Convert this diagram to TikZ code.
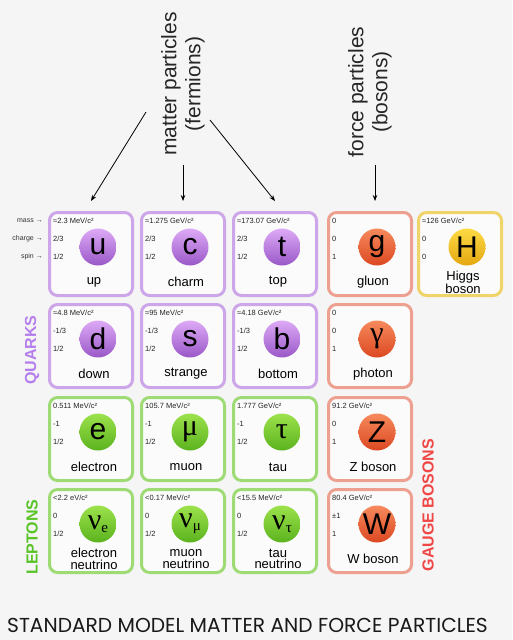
\documentclass[tikz,border=0pt]{standalone}
\usepackage{fontspec}
\setmainfont{Liberation Sans}
\newfontfamily\greek{Liberation Serif}
\newfontfamily\titlefont{Poppins}
\usepackage{tikz}
\usetikzlibrary{arrows.meta, positioning}

\definecolor{bgcol}{HTML}{F5F5F5}
\definecolor{cardfill}{HTML}{FBFBFB}
\definecolor{quarkline}{HTML}{CCA6E8}
\definecolor{leptonline}{HTML}{9FDB75}
\definecolor{bosonline}{HTML}{EEA090}
\definecolor{higgsline}{HTML}{F0D46A}
\definecolor{quarktext}{HTML}{B47EEC}
\definecolor{leptontext}{HTML}{58C428}
\definecolor{bosontext}{HTML}{F04646}
\definecolor{quarktop}{HTML}{DDAAF6}
\definecolor{quarkbot}{HTML}{9A58C8}
\definecolor{leptontop}{HTML}{9CE24C}
\definecolor{leptonbot}{HTML}{5BB31E}
\definecolor{bosontop}{HTML}{F68A5C}
\definecolor{bosonbot}{HTML}{DC4822}
\definecolor{higgstop}{HTML}{FCDA44}
\definecolor{higgsbot}{HTML}{E4A812}

\tikzstyle{card} = [rectangle, draw, fill=cardfill, line width=3pt,
    rounded corners=8pt, minimum width=83pt, minimum height=83pt]
\tikzstyle{line} = [draw, line width=0.8pt, -{Stealth[length=6pt, width=4.5pt]}]

% one particle card: name, x, y, family, mass, charge, spin, symbol, label
\newcommand{\particle}[9]{%
    \node[card, #4] (#1) at (#2,#3) {};
    \node[#4 ball] (#1-sym) at ([xshift=7pt, yshift=7pt]#1.center) {#8};
    \node[datum] (#1-mass) at ([xshift=5pt, yshift=33pt]#1.west) {#5};
    \node[datum] (#1-charge) at ([xshift=5pt, yshift=15pt]#1.west) {#6};
    \node[datum] (#1-spin) at ([xshift=5pt, yshift=-3pt]#1.west) {#7};
    \node[pname] (#1-name) at ([xshift=3pt, yshift=-28pt]#1.center) {#9};
}

\begin{document}
\begin{tikzpicture}[x=1pt, y=-1pt,
    quark/.style={draw=quarkline},
    lepton/.style={draw=leptonline},
    boson/.style={draw=bosonline},
    higgs/.style={draw=higgsline},
    symbol/.style={circle, minimum size=37pt, inner sep=0pt, shading angle=25,
        font=\fontsize{30}{30}\selectfont},
    quark ball/.style={symbol, top color=quarktop, bottom color=quarkbot},
    lepton ball/.style={symbol, top color=leptontop, bottom color=leptonbot},
    boson ball/.style={symbol, top color=bosontop, bottom color=bosonbot},
    higgs ball/.style={symbol, top color=higgstop, bottom color=higgsbot},
    datum/.style={anchor=west, inner sep=0pt, text=black!85,
        font=\fontsize{7.5}{8}\selectfont},
    pname/.style={align=center, inner sep=0pt, font=\fontsize{13}{11.5}\selectfont},
    side/.style={rotate=90, font=\fontsize{16}{16}\selectfont\bfseries},
    header/.style={rotate=90, align=center, text=black!85,
        font=\fontsize{21}{24}\selectfont},
    key/.style={anchor=east, inner sep=0pt, text=black!80,
        font=\fontsize{7}{8}\selectfont}
    ]
    \fill[bgcol] (0,0) rectangle (512,640);
    \useasboundingbox (0,0) rectangle (512,640);

    % quarks
    \particle{up}{91}{254}{quark}{≈2.3 MeV/c²}{2/3}{1/2}{u}{up}
    \particle{charm}{183}{254}{quark}{≈1.275 GeV/c²}{2/3}{1/2}{c}{charm}
    \particle{top}{275}{254}{quark}{≈173.07 GeV/c²}{2/3}{1/2}{t}{top}
    \particle{down}{91}{346}{quark}{≈4.8 MeV/c²}{-1/3}{1/2}{d}{down}
    \particle{strange}{183}{346}{quark}{≈95 MeV/c²}{-1/3}{1/2}{s}{strange}
    \particle{bottom}{275}{346}{quark}{≈4.18 GeV/c²}{-1/3}{1/2}{b}{bottom}

    % leptons
    \particle{electron}{91}{439}{lepton}{0.511 MeV/c²}{-1}{1/2}{e}{electron}
    \particle{muon}{183}{439}{lepton}{105.7 MeV/c²}{-1}{1/2}{{\greek μ}}{muon}
    \particle{tau}{275}{439}{lepton}{1.777 GeV/c²}{-1}{1/2}{{\greek τ}}{tau}
    \particle{nue}{91}{531}{lepton}{<2.2 eV/c²}{0}{1/2}%
        {{\greek ν}\raisebox{-3pt}{\fontsize{15}{15}\selectfont\greek e}}{electron\\neutrino}
    \particle{numu}{183}{531}{lepton}{<0.17 MeV/c²}{0}{1/2}%
        {{\greek ν}\raisebox{-3pt}{\fontsize{15}{15}\selectfont\greek μ}}{muon\\neutrino}
    \particle{nutau}{275}{531}{lepton}{<15.5 MeV/c²}{0}{1/2}%
        {{\greek ν}\raisebox{-3pt}{\fontsize{15}{15}\selectfont\greek τ}}{tau\\neutrino}

    % bosons
    \particle{gluon}{370}{254}{boson}{0}{0}{1}{g}{gluon}
    \particle{photon}{370}{346}{boson}{0}{0}{1}{{\greek γ}}{photon}
    \particle{zboson}{370}{439}{boson}{91.2 GeV/c²}{0}{1}{Z}{Z boson}
    \particle{wboson}{370}{531}{boson}{80.4 GeV/c²}{±1}{1}{W}{W boson}
    \particle{higgs}{460}{254}{higgs}{≈126 GeV/c²}{0}{0}{H}{Higgs\\boson}

    % keys
    \node[key] (massL) at ([xshift=-5pt, yshift=33pt]up.west) {mass →};
    \node[key] (chargeL) at ([xshift=-5pt, yshift=15pt]up.west) {charge →};
    \node[key] (spinL) at ([xshift=-5pt, yshift=-3pt]up.west) {spin →};

    % groups
    \node[side, text=quarktext] (quarks) at (32,350) {QUARKS};
    \node[side, text=leptontext] (leptons) at (32,537) {LEPTONS};
    \node[side, text=bosontext] (gauge) at (428,505) {GAUGE BOSONS};

    \node[header] (matter) at (183,84) {matter particles\\(fermions)};
    \node[header] (force) at (370,92) {force particles\\(bosons)};

    \coordinate (m1) at (146,112);
    \coordinate (m2) at (183,165);
    \coordinate (m3) at (210,120);
    \coordinate (f1) at (375,165);
    \draw[line] (m1) -- ([yshift=10pt]up.north);
    \draw[line] (m2) -- ([yshift=10pt]charm.north);
    \draw[line] (m3) -- ([yshift=10pt]top.north);
    \draw[line] (f1) -- ([xshift=5pt, yshift=10pt]gluon.north);

    \node[anchor=base west, inner sep=0pt, text=black!90,
        font=\titlefont\fontsize{20.2}{20}\selectfont] (title) at (7,632)
        {STANDARD MODEL MATTER AND FORCE PARTICLES};
\end{tikzpicture}
\end{document}
